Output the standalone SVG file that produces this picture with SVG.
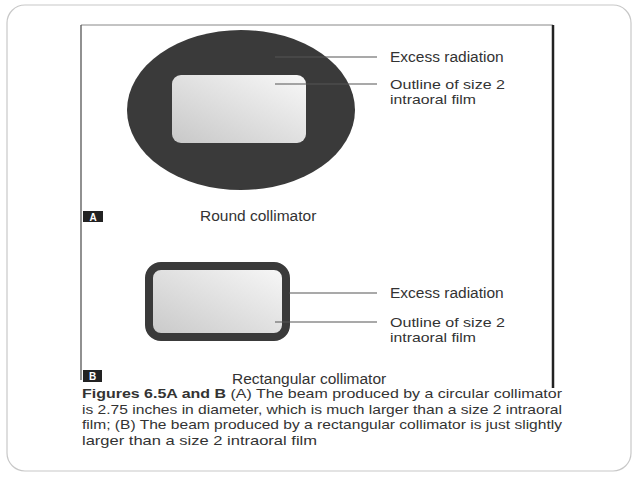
<svg xmlns="http://www.w3.org/2000/svg" width="638" height="478" viewBox="0 0 638 478">
<defs>
<linearGradient id="g" x1="0" y1="1" x2="1" y2="0"><stop offset="0" stop-color="#c8c8c8"/><stop offset="1" stop-color="#f8f8f8"/></linearGradient>
<style>
.t{font-family:"Liberation Sans",Arial,sans-serif;font-size:15.5px;fill:#333}
.s{font-family:"Liberation Sans",Arial,sans-serif;font-size:13.5px;fill:#333}
.c{font-family:"Liberation Sans",Arial,sans-serif;font-size:13px;fill:#333}
.l{stroke:#555;stroke-width:1.2}
</style>
</defs>
<rect x="0" y="0" width="638" height="478" fill="#fff"/>
<rect x="7" y="5" width="624" height="466" rx="18" fill="none" stroke="#c8c8c8" stroke-width="1.2"/>
<line x1="81" y1="25" x2="553" y2="25" stroke="#888" stroke-width="1"/>
<line x1="81" y1="25" x2="81" y2="380" stroke="#555" stroke-width="1.3"/>
<line x1="553" y1="25" x2="553" y2="388" stroke="#222" stroke-width="2.5"/>
<g id="round">
<ellipse cx="241" cy="110" rx="114" ry="80" fill="#3a3a3a"/>
<rect x="172" y="75" width="134" height="68" rx="9" fill="url(#g)"/>
</g>
<g id="rect">
<rect x="149" y="266" width="137" height="71" rx="12" fill="url(#g)" stroke="#3a3a3a" stroke-width="8"/>
</g>
<g id="connectors">
<line class="l" x1="275" y1="57" x2="377" y2="57"/>
<line class="l" x1="275" y1="84" x2="377" y2="84"/>
<line class="l" x1="289" y1="293" x2="377" y2="293"/>
<line class="l" x1="275" y1="322" x2="377" y2="322"/>
</g>
<g id="labels">
<text class="t" x="390" y="62">Excess radiation</text>
<text class="s" x="390" y="89" textLength="115" lengthAdjust="spacingAndGlyphs">Outline of size 2</text>
<text class="s" x="390" y="104" textLength="86" lengthAdjust="spacingAndGlyphs">intraoral film</text>
<text class="t" x="390" y="298">Excess radiation</text>
<text class="s" x="390" y="327" textLength="115" lengthAdjust="spacingAndGlyphs">Outline of size 2</text>
<text class="s" x="390" y="342" textLength="86" lengthAdjust="spacingAndGlyphs">intraoral film</text>
<text class="t" x="200" y="221">Round collimator</text>
<text class="t" x="232" y="384">Rectangular collimator</text>
</g>
<g id="A"><rect x="83" y="211" width="20" height="11" fill="#222"/><text x="93" y="220.5" text-anchor="middle" font-family="Liberation Sans,sans-serif" font-weight="bold" font-size="10" fill="#fff">A</text></g>
<g id="B"><rect x="83" y="370" width="19" height="12" fill="#222"/><text x="92.5" y="380" text-anchor="middle" font-family="Liberation Sans,sans-serif" font-weight="bold" font-size="10" fill="#fff">B</text></g>
<g id="caption">
<text class="c" x="82" y="398" textLength="480" lengthAdjust="spacingAndGlyphs"><tspan font-weight="bold">Figures 6.5A and B</tspan> (A) The beam produced by a circular collimator</text>
<text class="c" x="82" y="413.5" textLength="480" lengthAdjust="spacingAndGlyphs">is 2.75 inches in diameter, which is much larger than a size 2 intraoral</text>
<text class="c" x="82" y="429" textLength="480" lengthAdjust="spacingAndGlyphs">film; (B) The beam produced by a rectangular collimator is just slightly</text>
<text class="c" x="82" y="444.5" textLength="235" lengthAdjust="spacingAndGlyphs">larger than a size 2 intraoral film</text>
</g>
</svg>
